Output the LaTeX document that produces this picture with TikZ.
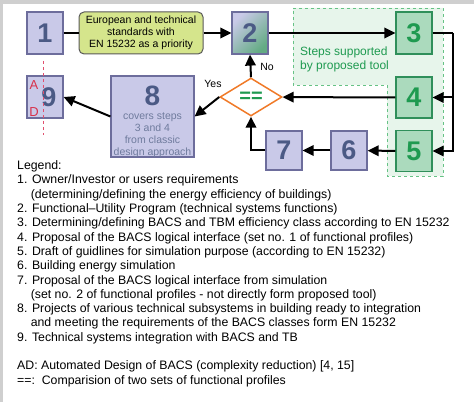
\documentclass[tikz,border=0pt]{standalone}
\usepackage{fontspec}
\setmainfont{Liberation Sans}
\usetikzlibrary{arrows.meta,calc,positioning,shapes.geometric}
\definecolor{frame}{HTML}{CFCFCF}
\definecolor{lav}{HTML}{C9C9E8}
\definecolor{lavline}{HTML}{6D6D9C}
\definecolor{navy}{HTML}{4B5A85}
\definecolor{mint}{HTML}{ABDABD}
\definecolor{mintline}{HTML}{2F8F5A}
\definecolor{leaf}{HTML}{1E9A50}
\definecolor{pale}{HTML}{E7F5EB}
\definecolor{dashgreen}{HTML}{66C285}
\definecolor{lime}{HTML}{D5E58C}
\definecolor{amber}{HTML}{F07A28}
\definecolor{adred}{HTML}{E0506E}
\definecolor{adtext}{HTML}{D8304A}

\begin{document}
\begin{tikzpicture}[x=1pt,y=-1pt, every node/.style={inner sep=0pt,align=center},
  nb/.style={draw=lavline,fill=lav,line width=1.2pt,minimum width=36pt,minimum height=42pt,text=navy,font=\fontsize{27}{27}\selectfont\bfseries},
  gb/.style={draw=mintline,fill=mint,line width=1.2pt,minimum width=36pt,minimum height=41pt,text=leaf,font=\fontsize{27}{27}\selectfont\bfseries},
  a/.style={line width=2pt,-{Triangle[length=11pt,width=10.5pt]}},
  ln/.style={line width=2pt}]
  \useasboundingbox (0,0) rectangle (474,406);
  \fill[frame] (0,0) rectangle (474,4);
  \fill[frame] (0,0) rectangle (3,402);
  % region of the tool
  \draw[dashgreen,fill=pale,dashed,line width=0.8pt] (293,8) -- (443,8) -- (443,176) -- (387,176) -- (387,85) -- (293,85) -- cycle;
  \node[text=leaf,align=left,anchor=west,font=\fontsize{12}{14.5}\selectfont] (tool) at (300,59.5) {Steps supported\\by proposed tool};
  % top row
  \node[nb] (b1) at (45,33) {1};
  \node[draw=black!65,fill=lime,line width=1pt,rounded corners=5pt,minimum width=124pt,minimum height=42pt,font=\fontsize{10.5}{11.8}\selectfont] (ybox) at (141,33) {European and technical\\standards with\\EN 15232 as a priority};
  \node[nb,top color=lav,bottom color=mintline!75,shading angle=45] (b2) at (250,33) {2};
  \node[gb,minimum height=42pt] (b3) at (414,33) {3};
  % right column
  \node[gb] (b4) at (414,97.5) {4};
  \node[gb] (b5) at (414,151) {5};
  \node[nb,minimum height=39pt] (b6) at (349,150.5) {6};
  \node[nb,minimum height=39pt] (b7) at (284,150.5) {7};
  % comparison
  \node[diamond,draw=amber,fill=white,line width=1.5pt,minimum width=62pt,minimum height=38pt,text=leaf,font=\fontsize{20}{20}\selectfont\bfseries] (cmp) at (251,97) {==};
  \node[nb,minimum width=83pt,minimum height=81pt] (b8) at (152.5,116.5) {};
  \node[text=navy,font=\fontsize{28}{28}\selectfont\bfseries] (n8) at (152.5,96) {8};
  \node[text=navy!80,font=\fontsize{10.5}{12}\selectfont] (t8) at (152.5,135) {covers steps\\3 and 4\\from classic\\design approach};
  \node[nb] (b9) at (45,97) {\kern8pt 9};
  \coordinate (adtop) at (43,61);
  \coordinate (adbot) at (43,135);
  \draw[adred,dashed,line width=1pt] (adtop) -- (adbot);
  \node[text=adtext,font=\fontsize{13}{13}\selectfont] (ada) at (34,85) {A};
  \node[text=adtext,font=\fontsize{13}{13}\selectfont] (add) at (34,112) {D};
  % connectors
  \draw[ln] (b1) -- (ybox);
  \draw[a] (ybox) -- (b2);
  \draw[a] (b2) -- (b3);
  \coordinate (jn) at ($(b3.east)+(20,0)$);
  \draw[ln] (b3.east) -- (jn);
  \draw[a] (jn) |- (b5.east);
  \draw[a] (jn |- b4.east) -- (b4.east);
  \draw[a] (b4) -- (cmp);
  \draw[a] (b5) -- (b6);
  \draw[a] (b6) -- (b7);
  \draw[a] (b7.west) -| (cmp.south);
  \draw[a] (cmp.north) -- (b2.south);
  \draw[a] (cmp.west) -- (b8.east);
  \draw[a] (b8.west) -- (b9.east);
  \node[font=\fontsize{10.5}{12}\selectfont] (no) at (267,67) {No};
  \node[font=\fontsize{10.5}{12}\selectfont] (yes) at (213,84) {Yes};
  % legend
  \node[anchor=north west,align=left,font=\fontsize{12.3}{14.3}\selectfont] (legend) at (17,160.5) {Legend:\\
1. Owner/Investor or users requirements\\
\hspace*{13.6pt}(determining/defining the energy efficiency of buildings)\\
2. Functional–Utility Program (technical systems functions)\\
3. Determining/defining BACS and TBM efficiency class according to EN 15232\\
4. Proposal of the BACS logical interface (set no. 1 of functional profiles)\\
5. Draft of guidlines for simulation purpose (according to EN 15232)\\
6. Building energy simulation\\
7. Proposal of the BACS logical interface from simulation\\
\hspace*{13.6pt}(set no. 2 of functional profiles - not directly form proposed tool)\\
8. Projects of various technical subsystems in building ready to integration\\
\hspace*{13.6pt}and meeting the requirements of the BACS classes form EN 15232\\
9. Technical systems integration with BACS and TB\\[14.3pt]
AD: Automated Design of BACS (complexity reduction) [4, 15]\\
==:\ \ Comparision of two sets of functional profiles};
\end{tikzpicture}
\end{document}
